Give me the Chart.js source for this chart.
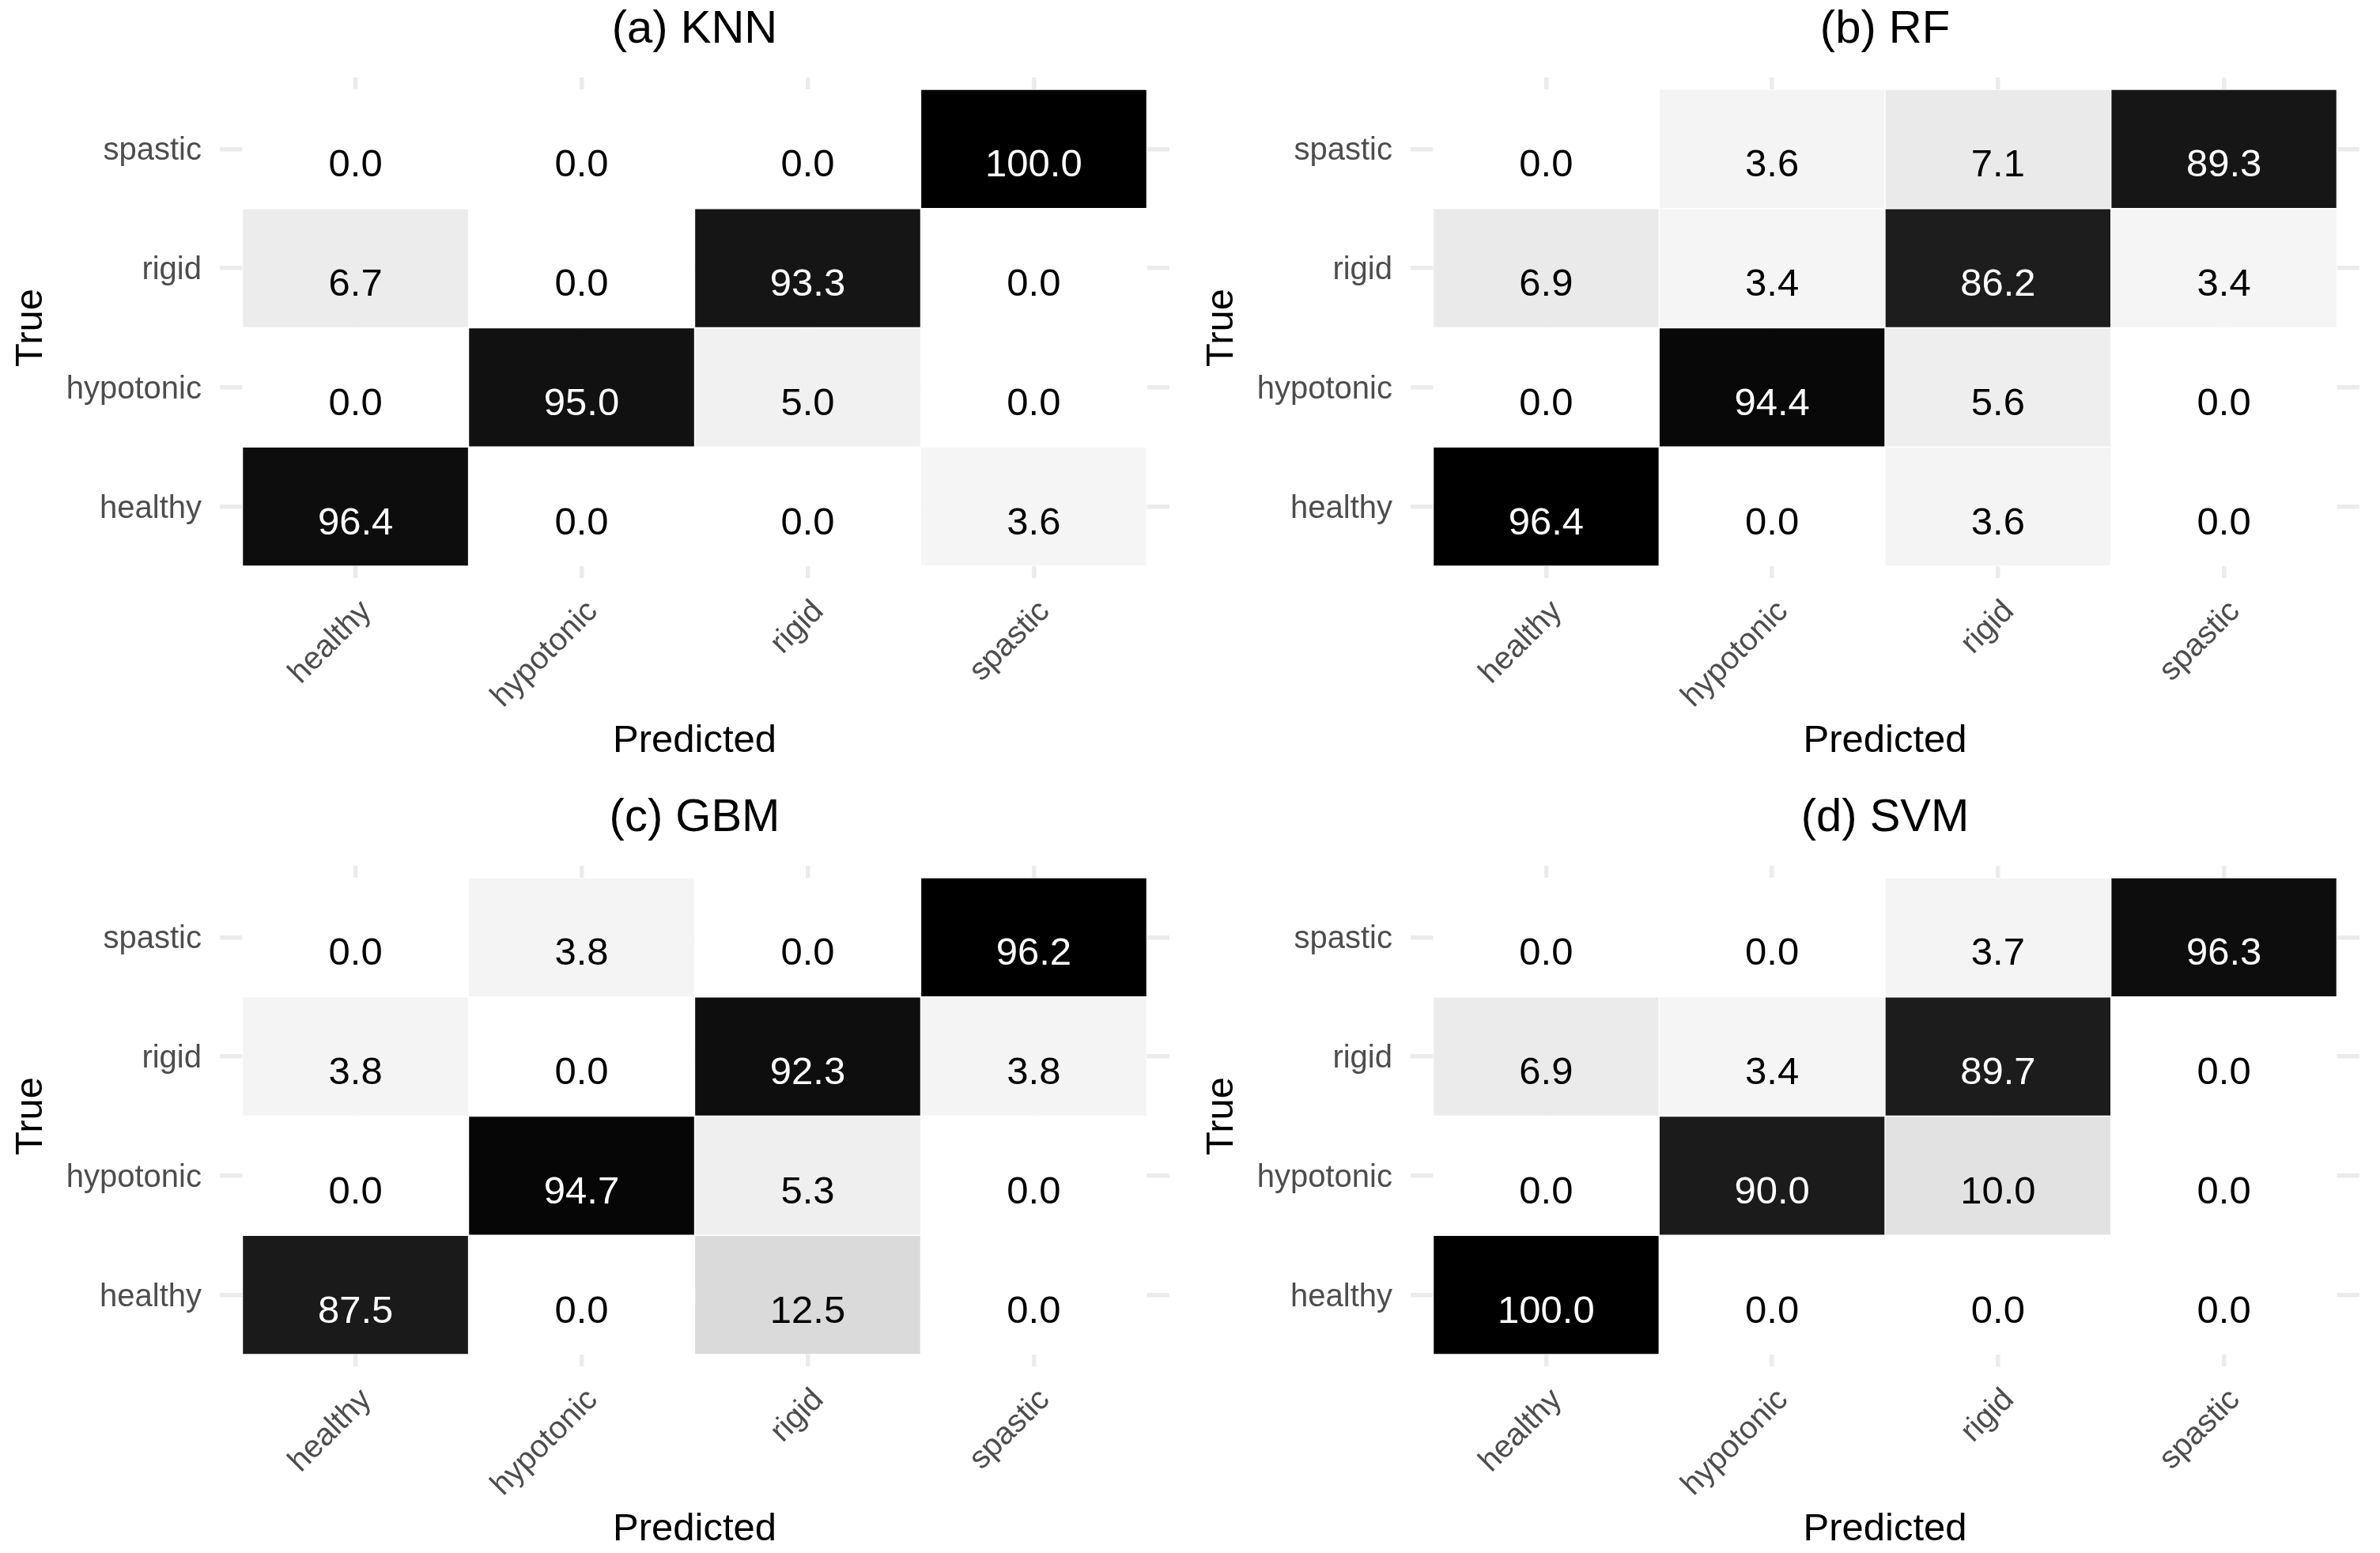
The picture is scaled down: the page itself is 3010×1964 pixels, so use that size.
<!DOCTYPE html>
<html>
<head>
<meta charset="utf-8">
<title>Confusion matrices</title>
<script src="https://cdn.jsdelivr.net/npm/chart.js@4.4.1/dist/chart.umd.min.js"></script>
<style>
  html, body { margin: 0; padding: 0; background: #fff; }
  body { width: 3010px; height: 1964px; position: relative; overflow: hidden; }
  canvas { position: absolute; }
</style>
</head>
<body>
<canvas id="knn" width="1505" height="982" style="left:0px;top:0px"></canvas>
<canvas id="rf" width="1504" height="982" style="left:1506px;top:0px"></canvas>
<canvas id="gbm" width="1505" height="967" style="left:0px;top:997px"></canvas>
<canvas id="svm" width="1504" height="967" style="left:1506px;top:997px"></canvas>
<script>
// classes, bottom row / left column first
const classes = ['healthy', 'hypotonic', 'rigid', 'spastic'];

// percentages, one row per true class, one column per predicted class
const knnValues = [
  [96.4, 0.0, 0.0, 3.6],
  [0.0, 95.0, 5.0, 0.0],
  [6.7, 0.0, 93.3, 0.0],
  [0.0, 0.0, 0.0, 100.0]
];
const rfValues = [
  [96.4, 0.0, 3.6, 0.0],
  [0.0, 94.4, 5.6, 0.0],
  [6.9, 3.4, 86.2, 3.4],
  [0.0, 3.6, 7.1, 89.3]
];
const gbmValues = [
  [87.5, 0.0, 12.5, 0.0],
  [0.0, 94.7, 5.3, 0.0],
  [3.8, 0.0, 92.3, 3.8],
  [0.0, 3.8, 0.0, 96.2]
];
const svmValues = [
  [100.0, 0.0, 0.0, 0.0],
  [0.0, 90.0, 10.0, 0.0],
  [6.9, 3.4, 89.7, 0.0],
  [0.0, 0.0, 3.7, 96.3]
];

const FONT = '"Liberation Sans", Arial, Helvetica, sans-serif';

// white -> black through Lab lightness (like ggplot's gradient)
function greyFor(value, max) {
  const t = max > 0 ? value / max : 0;
  const L = 100 * (1 - t);
  const Y = L > 8 ? Math.pow((L + 16) / 116, 3) : L / 903.3;
  const s = Y <= 0.0031308 ? 12.92 * Y : 1.055 * Math.pow(Y, 1 / 2.4) - 0.055;
  const g = Math.round(255 * Math.min(1, Math.max(0, s)));
  return 'rgb(' + g + ',' + g + ',' + g + ')';
}

// writes the value in each tile
const cellLabels = {
  id: 'cellLabels',
  afterDatasetsDraw(chart) {
    const ctx = chart.ctx;
    const meta = chart.getDatasetMeta(0);
    const data = chart.data.datasets[0].data;
    const max = Math.max(...data.map(d => d.v));
    ctx.save();
    ctx.font = '49px ' + FONT;
    ctx.textAlign = 'center';
    ctx.textBaseline = 'alphabetic';
    meta.data.forEach((bar, i) => {
      const d = data[i];
      const p = bar.getCenterPoint();
      ctx.fillStyle = d.v / max > 0.5 ? '#ffffff' : '#000000';
      ctx.fillText(d.v.toFixed(1), p.x, p.y + 35);
    });
    ctx.restore();
  }
};

function categoryTicks(scale) {
  scale.ticks = classes.map((c, i) => ({ value: i }));
}

function makePanel(id, title, values, opts) {
  const cells = [];
  values.forEach((row, r) => {
    row.forEach((v, c) => {
      cells.push({ x: c, y: [r - 0.5, r + 0.5], v: v });
    });
  });
  const max = Math.max(...cells.map(d => d.v));

  return new Chart(document.getElementById(id), {
    type: 'bar',
    data: {
      datasets: [{
        data: cells,
        backgroundColor: cells.map(d => greyFor(d.v, max)),
        borderColor: '#ffffff',
        borderWidth: 1,
        borderSkipped: false,
        barPercentage: 1,
        categoryPercentage: 1
      }]
    },
    options: {
      responsive: false,
      animation: false,
      devicePixelRatio: 1,
      events: [],
      layout: { padding: { left: 0, right: 26, top: 0, bottom: 0 } },
      plugins: {
        legend: { display: false },
        tooltip: { enabled: false },
        title: {
          display: true,
          text: title,
          fullSize: false,
          color: '#000000',
          font: { size: 58, family: FONT, weight: 'normal', lineHeight: 1.2 },
          padding: { top: 3, bottom: 25.4 }
        }
      },
      scales: {
        x: {
          type: 'linear',
          min: -0.6,
          max: 3.6,
          offset: false,
          afterBuildTicks: categoryTicks,
          afterFit: s => { s.height = opts.xAxisHeight; },
          grid: { color: '#EBEBEB', lineWidth: 5.5, drawTicks: false, offset: false },
          border: { display: false },
          ticks: {
            callback: v => classes[v],
            color: '#4D4D4D',
            font: { size: 40, family: FONT },
            autoSkip: false,
            maxRotation: 45,
            minRotation: 45,
            padding: 19,
            labelOffset: 14
          },
          title: {
            display: true,
            text: 'Predicted',
            color: '#000000',
            font: { size: 49, family: FONT },
            padding: { top: 0, bottom: opts.xTitleBottom }
          }
        },
        y: {
          type: 'linear',
          min: -0.6,
          max: 3.6,
          afterBuildTicks: categoryTicks,
          afterFit: s => { s.width = 278; },
          grid: { color: '#EBEBEB', lineWidth: 5.5, drawTicks: false },
          border: { display: false },
          ticks: {
            callback: v => classes[v],
            color: '#4D4D4D',
            font: { size: 40, family: FONT },
            padding: 23,
            labelOffset: 3
          },
          title: {
            display: true,
            text: 'True',
            color: '#000000',
            font: { size: 49, family: FONT },
            padding: { top: 10, bottom: 0 }
          }
        }
      }
    },
    plugins: [cellLabels]
  });
}

const topRow = { xAxisHeight: 251, xTitleBottom: 15 };
const bottomRow = { xAxisHeight: 236, xTitleBottom: 0 };

makePanel('knn', '(a) KNN', knnValues, topRow);
makePanel('rf', '(b) RF', rfValues, topRow);
makePanel('gbm', '(c) GBM', gbmValues, bottomRow);
makePanel('svm', '(d) SVM', svmValues, bottomRow);
</script>
</body>
</html>
